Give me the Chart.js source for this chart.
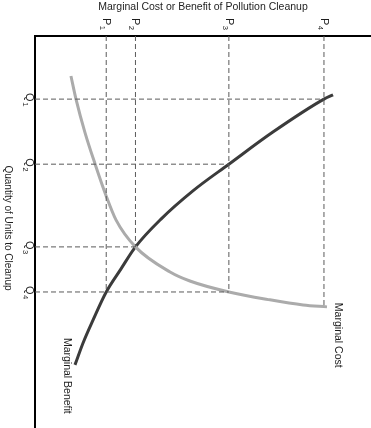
<!DOCTYPE html>
<html>
<head>
<meta charset="utf-8">
<script src="https://cdn.jsdelivr.net/npm/chart.js@4/dist/chart.umd.min.js"></script>
<style>
  html, body { margin: 0; background: #fff; }
  canvas { display: block; }
</style>
</head>
<body>
<canvas id="chart" width="371" height="428"></canvas>
<script>
// cost levels along the top axis, quantity levels down the left axis
const pSubs = ['1', '2', '3', '4'];
const pValues = [21.2, 29.9, 57.7, 86];
const qSubs = ['1', '2', '3', '4'];
const qValues = [16.1, 32.7, 53.8, 65.3];

// curves (cost, quantity), cost increasing
const benefitCost = [11.9, 14.3, 17.3, 21.2, 25.6, 29.9, 37.5, 47.0, 57.7, 70.8, 86, 88.7];
const benefitQty  = [83.9, 78.3, 72.4, 65.3, 59.4, 53.8, 46.7, 39.5, 32.7, 24.5, 16.1, 15.0];
const costCost = [10.7, 12.2, 14.9, 17.9, 21.1, 24.1, 29.9, 40.2, 46.1, 57.7, 69.9, 79.8, 86.9];
const costQty  = [10.2, 16.1, 24.7, 32.7, 40.6, 46.9, 53.8, 60.2, 62.5, 65.3, 67.3, 68.6, 69.1];

// where the dashed guides stop
const pGuideEnd = [qValues[3], qValues[2], qValues[3], 69];
const qGuideEnd = [pValues[3], pValues[2], pValues[1], pValues[2]];

const xTitle = 'Marginal Cost or Benefit of Pollution Cleanup';
const yTitle = 'Quantity of Units to Cleanup';

const FONT = '"Liberation Sans", Arial, Helvetica, sans-serif';

const toPoints = (xs, ys) => xs.map((x, i) => ({ x, y: ys[i] }));

const guide = (data) => ({
  data,
  showLine: true,
  borderColor: '#5a5a5a',
  borderWidth: 1,
  borderDash: [5, 3],
  pointRadius: 0,
  tension: 0,
});

const datasets = [
  ...pValues.map((p, i) => guide([{ x: p, y: 0 }, { x: p, y: pGuideEnd[i] }])),
  ...qValues.map((q, i) => guide([{ x: 0, y: q }, { x: qGuideEnd[i], y: q }])),
  {
    label: 'Marginal Cost',
    data: toPoints(costCost, costQty),
    showLine: true,
    borderColor: '#ababab',
    borderWidth: 3,
    pointRadius: 0,
    cubicInterpolationMode: 'monotone',
  },
  {
    label: 'Marginal Benefit',
    data: toPoints(benefitCost, benefitQty),
    showLine: true,
    borderColor: '#3b3b3b',
    borderWidth: 3,
    pointRadius: 0,
    cubicInterpolationMode: 'monotone',
  },
];

// text reading top-to-bottom, with an optional subscript
function drawDown(ctx, text, cx, top, size, sub) {
  ctx.save();
  ctx.translate(cx, top);
  ctx.rotate(Math.PI / 2);
  ctx.font = size + 'px ' + FONT;
  ctx.textAlign = 'left';
  ctx.textBaseline = 'middle';
  ctx.fillText(text, 0, 0);
  if (sub) {
    const w = ctx.measureText(text).width;
    ctx.font = (size * 0.7) + 'px ' + FONT;
    ctx.fillText(sub, w + 0.5, size * 0.35);
  }
  ctx.restore();
}

const labelsPlugin = {
  id: 'labels',
  afterDraw(chart) {
    const { ctx, scales: { x, y } } = chart;
    ctx.save();
    ctx.fillStyle = '#1e1e1e';

    ctx.font = '10.5px ' + FONT;
    ctx.textAlign = 'center';
    ctx.textBaseline = 'middle';
    ctx.fillText(xTitle, (x.left + x.right) / 2, 7);

    pValues.forEach((p, i) => drawDown(ctx, 'P', x.getPixelForValue(p), 18, 11, pSubs[i]));
    qValues.forEach((q, i) => drawDown(ctx, 'Q', 29, y.getPixelForValue(q) - 6, 11, qSubs[i]));

    // y title, centred on its own middle
    ctx.save();
    ctx.font = '10px ' + FONT;
    const tw = ctx.measureText(yTitle).width;
    ctx.restore();
    drawDown(ctx, yTitle, 8, 228 - tw / 2, 10);

    const cEnd = costCost.length - 1;
    drawDown(ctx, 'Marginal Cost', x.getPixelForValue(costCost[cEnd]) + 11,
      y.getPixelForValue(costQty[cEnd]) - 4, 10.5);
    drawDown(ctx, 'Marginal Benefit', x.getPixelForValue(benefitCost[0]) - 8,
      y.getPixelForValue(benefitQty[0]) - 27, 10.5);
    ctx.restore();
  },
};

const axis = {
  type: 'linear',
  min: 0,
  max: 100,
  grid: { display: true, color: 'transparent', drawTicks: false },
  border: { display: true, color: '#000', width: 2 },
  ticks: { display: false },
};

new Chart(document.getElementById('chart'), {
  type: 'scatter',
  data: { datasets },
  options: {
    responsive: false,
    devicePixelRatio: 1,
    animation: false,
    layout: { padding: { left: 35, top: 36, right: 0, bottom: 0 } },
    plugins: { legend: { display: false }, tooltip: { enabled: false } },
    scales: {
      x: { ...axis, position: 'top' },
      y: { ...axis, reverse: true },
    },
  },
  plugins: [labelsPlugin],
});
</script>
</body>
</html>
